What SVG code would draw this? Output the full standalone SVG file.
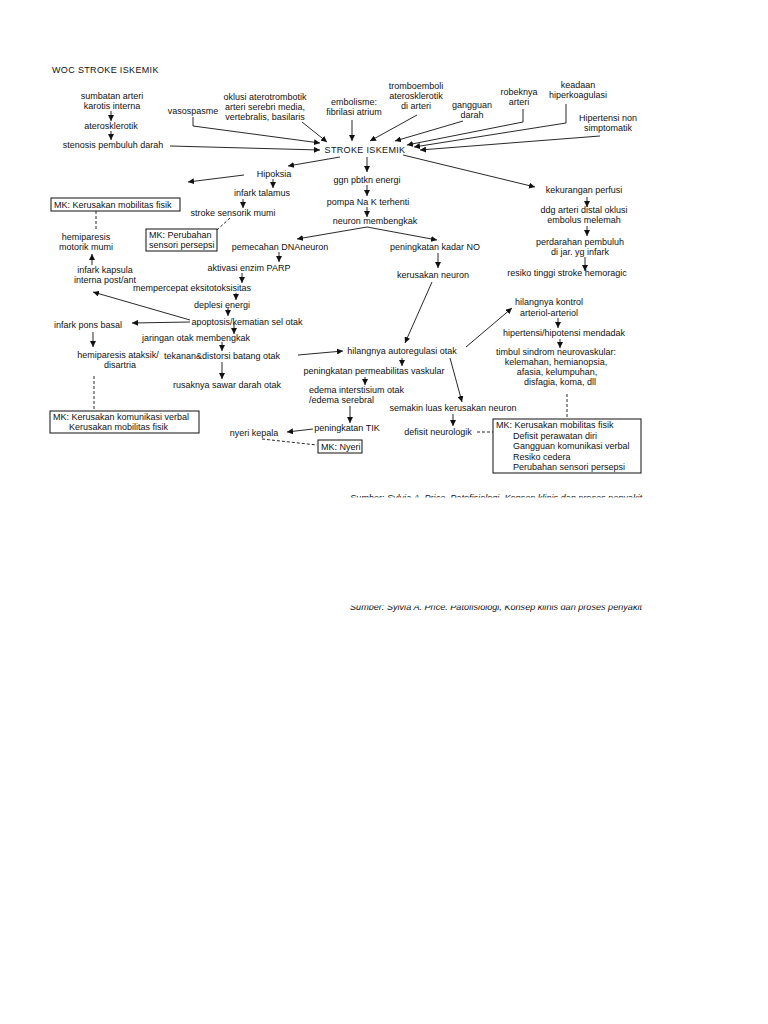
<svg xmlns="http://www.w3.org/2000/svg" width="768" height="1024" viewBox="0 0 768 1024">
<defs>
<marker id="ah" markerUnits="userSpaceOnUse" markerWidth="7" markerHeight="6" refX="6" refY="3" orient="auto">
<path d="M0,0 L6,3 L0,6 z" fill="#111"/>
</marker>
<clipPath id="clipTop"><rect x="330" y="480" width="330" height="17.5"/></clipPath>
<clipPath id="clipBot"><rect x="330" y="605.5" width="330" height="15"/></clipPath>
</defs>
<style>
text{font-family:"Liberation Sans",Arial,sans-serif;font-size:9px;fill:#111}
.c{text-anchor:middle}
.sp{letter-spacing:0.35px}
.ln{stroke:#111;stroke-width:0.9;fill:none}
.ar{marker-end:url(#ah)}
.da{stroke:#111;stroke-width:0.9;fill:none;stroke-dasharray:3,2}
.box{fill:#fff;stroke:#111;stroke-width:1}
.src{font-style:italic;font-size:8.5px}
</style>
<rect width="768" height="1024" fill="#fff"/>

<g id="title"><text x="52" y="73" class="sp">WOC STROKE ISKEMIK</text></g>

<g id="connectors">
<line class="ln ar" x1="111" y1="111" x2="111" y2="121"/>
<line class="ln ar" x1="111" y1="131" x2="111" y2="140"/>
<line class="ln ar" x1="170" y1="146" x2="320" y2="150"/>
<polyline class="ln ar" points="193,117 193,126 320,143"/>
<line class="ln ar" x1="302" y1="122" x2="327" y2="142"/>
<line class="ln ar" x1="352" y1="120" x2="352" y2="141"/>
<line class="ln ar" x1="417" y1="115" x2="370" y2="141"/>
<line class="ln ar" x1="463" y1="121" x2="395" y2="141"/>
<polyline class="ln ar" points="523,109 523,122 407,145"/>
<polyline class="ln ar" points="566,104 566,123 414,147"/>
<line class="ln ar" x1="600" y1="136" x2="420" y2="150"/>

<line class="ln ar" x1="340" y1="157" x2="288" y2="166"/>
<line class="ln ar" x1="244" y1="175" x2="188" y2="182"/>
<line class="ln ar" x1="273" y1="179" x2="273" y2="188"/>
<line class="ln ar" x1="243" y1="199" x2="243" y2="208"/>
<line class="da" x1="230" y1="218" x2="217" y2="230"/>
<line class="da" x1="96" y1="211" x2="96" y2="229"/>
<line class="ln ar" x1="92" y1="265" x2="92" y2="254"/>
<line class="ln ar" x1="367" y1="157" x2="367" y2="172"/>
<line class="ln ar" x1="367" y1="185" x2="367" y2="196"/>
<line class="ln ar" x1="367" y1="207" x2="367" y2="217"/>
<line class="ln ar" x1="367" y1="227" x2="297" y2="239"/>
<line class="ln ar" x1="367" y1="227" x2="437" y2="240"/>
<line class="ln ar" x1="279" y1="252" x2="279" y2="262"/>
<line class="ln ar" x1="242" y1="273" x2="242" y2="283"/>
<line class="ln ar" x1="236" y1="293" x2="236" y2="300"/>
<line class="ln ar" x1="228" y1="308" x2="228" y2="316"/>
<line class="ln ar" x1="190" y1="322" x2="132" y2="323"/>
<line class="ln ar" x1="190" y1="320" x2="93" y2="292"/>
<line class="ln ar" x1="93" y1="332" x2="93" y2="347"/>
<line class="da" x1="94" y1="376" x2="94" y2="411"/>
<line class="ln ar" x1="234" y1="323" x2="234" y2="334"/>
<line class="ln ar" x1="222" y1="342" x2="222" y2="351"/>
<line class="ln ar" x1="222" y1="362" x2="222" y2="379"/>
<line class="ln ar" x1="298" y1="355" x2="343" y2="351"/>
<line class="ln ar" x1="432" y1="282" x2="405" y2="343"/>
<line class="ln ar" x1="402" y1="358" x2="402" y2="366"/>
<line class="ln ar" x1="365" y1="377" x2="365" y2="385"/>
<line class="ln ar" x1="350" y1="406" x2="350" y2="423"/>
<line class="ln ar" x1="313" y1="429" x2="287" y2="432"/>
<line class="da" x1="262" y1="439" x2="317" y2="445"/>
<line class="ln ar" x1="450" y1="358" x2="462" y2="402"/>
<line class="ln ar" x1="453" y1="414" x2="453" y2="426"/>
<line class="da" x1="477" y1="432" x2="493" y2="432"/>
<line class="ln ar" x1="466" y1="347" x2="512" y2="308"/>
<line class="ln ar" x1="558" y1="318" x2="558" y2="328"/>
<line class="ln ar" x1="560" y1="339" x2="560" y2="348"/>
<line class="da" x1="567" y1="394" x2="567" y2="419"/>
<line class="ln ar" x1="403" y1="155" x2="535" y2="187"/>
<line class="ln ar" x1="587" y1="197" x2="587" y2="207"/>
<line class="ln ar" x1="587" y1="226" x2="587" y2="236"/>
<line class="ln ar" x1="585" y1="257" x2="585" y2="271"/>
<line class="ln ar" x1="438" y1="253" x2="438" y2="268"/>
</g>

<g id="n-sumbatan"><text class="c" x="112" y="99">sumbatan arteri</text><text class="c" x="112" y="109">karotis interna</text></g>
<g id="n-aterosklerotik"><text class="c" x="111" y="129">aterosklerotik</text></g>
<g id="n-stenosis"><text class="c" x="113" y="148">stenosis pembuluh darah</text></g>
<g id="n-vasospasme"><text class="c" x="193" y="114">vasospasme</text></g>
<g id="n-oklusi"><text class="c" x="265" y="100">oklusi aterotrombotik</text><text class="c" x="265" y="110">arteri serebri media,</text><text class="c" x="265" y="120">vertebralis, basilaris</text></g>
<g id="n-embolisme"><text class="c" x="354" y="105">embolisme:</text><text class="c" x="354" y="115">fibrilasi atrium</text></g>
<g id="n-tromboemboli"><text class="c" x="416" y="89">tromboemboli</text><text class="c" x="416" y="99">aterosklerotik</text><text class="c" x="416" y="109">di arteri</text></g>
<g id="n-gangguan"><text class="c" x="472" y="108">gangguan</text><text class="c" x="472" y="118">darah</text></g>
<g id="n-robeknya"><text class="c" x="519" y="95">robeknya</text><text class="c" x="519" y="105">arteri</text></g>
<g id="n-keadaan"><text class="c" x="578" y="88">keadaan</text><text class="c" x="578" y="98">hiperkoagulasi</text></g>
<g id="n-hipertensi"><text class="c" x="608" y="121">Hipertensi non</text><text class="c" x="608" y="131">simptomatik</text></g>
<g id="n-stroke"><text class="c sp" x="365" y="153">STROKE ISKEMIK</text></g>

<g id="n-hipoksia"><text class="c" x="274" y="177">Hipoksia</text></g>
<g id="n-infark-talamus"><text class="c" x="262" y="196">infark talamus</text></g>
<g id="n-stroke-sensorik"><text class="c" x="233" y="216">stroke sensorik mumi</text></g>
<g id="n-mk-perubahan"><rect class="box" x="146" y="229" width="71" height="22"/><text x="149" y="238">MK: Perubahan</text><text x="149" y="248">sensori persepsi</text></g>
<g id="n-mk-mobilitas"><rect class="box" x="51" y="198" width="129" height="13"/><text x="54" y="207.5">MK: Kerusakan mobilitas fisik</text></g>
<g id="n-hemiparesis-motorik"><text class="c" x="86" y="240">hemiparesis</text><text class="c" x="86" y="250">motorik mumi</text></g>
<g id="n-infark-kapsula"><text class="c" x="105" y="273">infark kapsula</text><text class="c" x="105" y="283">interna post/ant</text></g>
<g id="n-mempercepat"><text class="c" x="192" y="291">mempercepat eksitotoksisitas</text></g>
<g id="n-ggn"><text class="c" x="367" y="183">ggn pbtkn energi</text></g>
<g id="n-pompa"><text class="c" x="368" y="205">pompa Na K terhenti</text></g>
<g id="n-neuron"><text class="c" x="375" y="224">neuron membengkak</text></g>
<g id="n-pemecahan"><text class="c" x="280" y="250">pemecahan DNAneuron</text></g>
<g id="n-no"><text class="c" x="435" y="250">peningkatan kadar NO</text></g>
<g id="n-kerusakan-neuron"><text class="c" x="433" y="278">kerusakan neuron</text></g>
<g id="n-aktivasi"><text class="c" x="249" y="271">aktivasi enzim PARP</text></g>
<g id="n-deplesi"><text class="c" x="222" y="308">deplesi energi</text></g>
<g id="n-apoptosis"><text class="c" x="247" y="325">apoptosis/kematian sel otak</text></g>
<g id="n-infark-pons"><text class="c" x="88" y="328">infark pons basal</text></g>
<g id="n-jaringan"><text class="c" x="196" y="341">jaringan otak membengkak</text></g>
<g id="n-hemiparesis-ataksik"><text class="c" x="118" y="358">hemiparesis ataksik/</text><text class="c" x="120" y="368">disartria</text></g>
<g id="n-tekanan"><text class="c" x="222" y="359">tekanan&amp;distorsi batang otak</text></g>
<g id="n-rusaknya"><text class="c" x="227" y="388">rusaknya sawar darah otak</text></g>
<g id="n-mk-komunikasi"><rect class="box" x="50" y="411" width="149" height="22"/><text x="53" y="419.5">MK: Kerusakan komunikasi verbal</text><text x="69" y="429.5">Kerusakan mobilitas fisik</text></g>
<g id="n-hilangnya-auto"><text class="c" x="402" y="354">hilangnya autoregulasi otak</text></g>
<g id="n-permeabilitas"><text class="c" x="374" y="374">peningkatan permeabilitas vaskular</text></g>
<g id="n-edema"><text x="309" y="393">edema interstisium otak</text><text x="309" y="403">/edema serebral</text></g>
<g id="n-tik"><text class="c" x="347" y="431">peningkatan TIK</text></g>
<g id="n-nyeri"><text class="c" x="254" y="436">nyeri kepala</text></g>
<g id="n-mk-nyeri"><rect class="box" x="318" y="440" width="44" height="13"/><text x="321" y="449.5">MK: Nyeri</text></g>
<g id="n-semakin"><text class="c" x="453" y="411">semakin luas kerusakan neuron</text></g>
<g id="n-defisit"><text class="c" x="438" y="435">defisit neurologik</text></g>
<g id="n-mk-right"><rect class="box" x="493" y="419" width="148" height="54"/><text x="496" y="428">MK: Kerusakan mobilitas fisik</text><text x="513" y="438.5">Defisit perawatan diri</text><text x="513" y="449">Gangguan komunikasi verbal</text><text x="513" y="459.5">Resiko cedera</text><text x="513" y="470">Perubahan sensori persepsi</text></g>
<g id="n-kontrol"><text class="c" x="549" y="305">hilangnya kontrol</text><text class="c" x="549" y="316">arteriol-arteriol</text></g>
<g id="n-hipotensi"><text class="c" x="564" y="336">hipertensi/hipotensi mendadak</text></g>
<g id="n-timbul"><text class="c" x="556" y="355">timbul sindrom neurovaskular:</text><text class="c" x="556" y="365">kelemahan, hemianopsia,</text><text class="c" x="557" y="375">afasia, kelumpuhan,</text><text class="c" x="560" y="385">disfagia, koma, dll</text></g>
<g id="n-kekurangan"><text class="c" x="584" y="193">kekurangan perfusi</text></g>
<g id="n-ddg"><text class="c" x="584" y="213">ddg arteri distal oklusi</text><text class="c" x="584" y="223">embolus melemah</text></g>
<g id="n-perdarahan"><text class="c" x="580" y="245">perdarahan pembuluh</text><text class="c" x="580" y="255">di jar. yg infark</text></g>
<g id="n-resiko"><text class="c" x="567" y="276">resiko tinggi stroke hemoragic</text></g>

<g id="source">
<text class="src" x="350" y="501" textLength="292" lengthAdjust="spacingAndGlyphs" clip-path="url(#clipTop)">Sumber: Sylvia A. Price. Patofisiologi, Konsep klinis dan proses penyakit</text>
<text class="src" x="350" y="610" textLength="292" lengthAdjust="spacingAndGlyphs" clip-path="url(#clipBot)">Sumber: Sylvia A. Price. Patofisiologi, Konsep klinis dan proses penyakit</text>
</g>
</svg>
